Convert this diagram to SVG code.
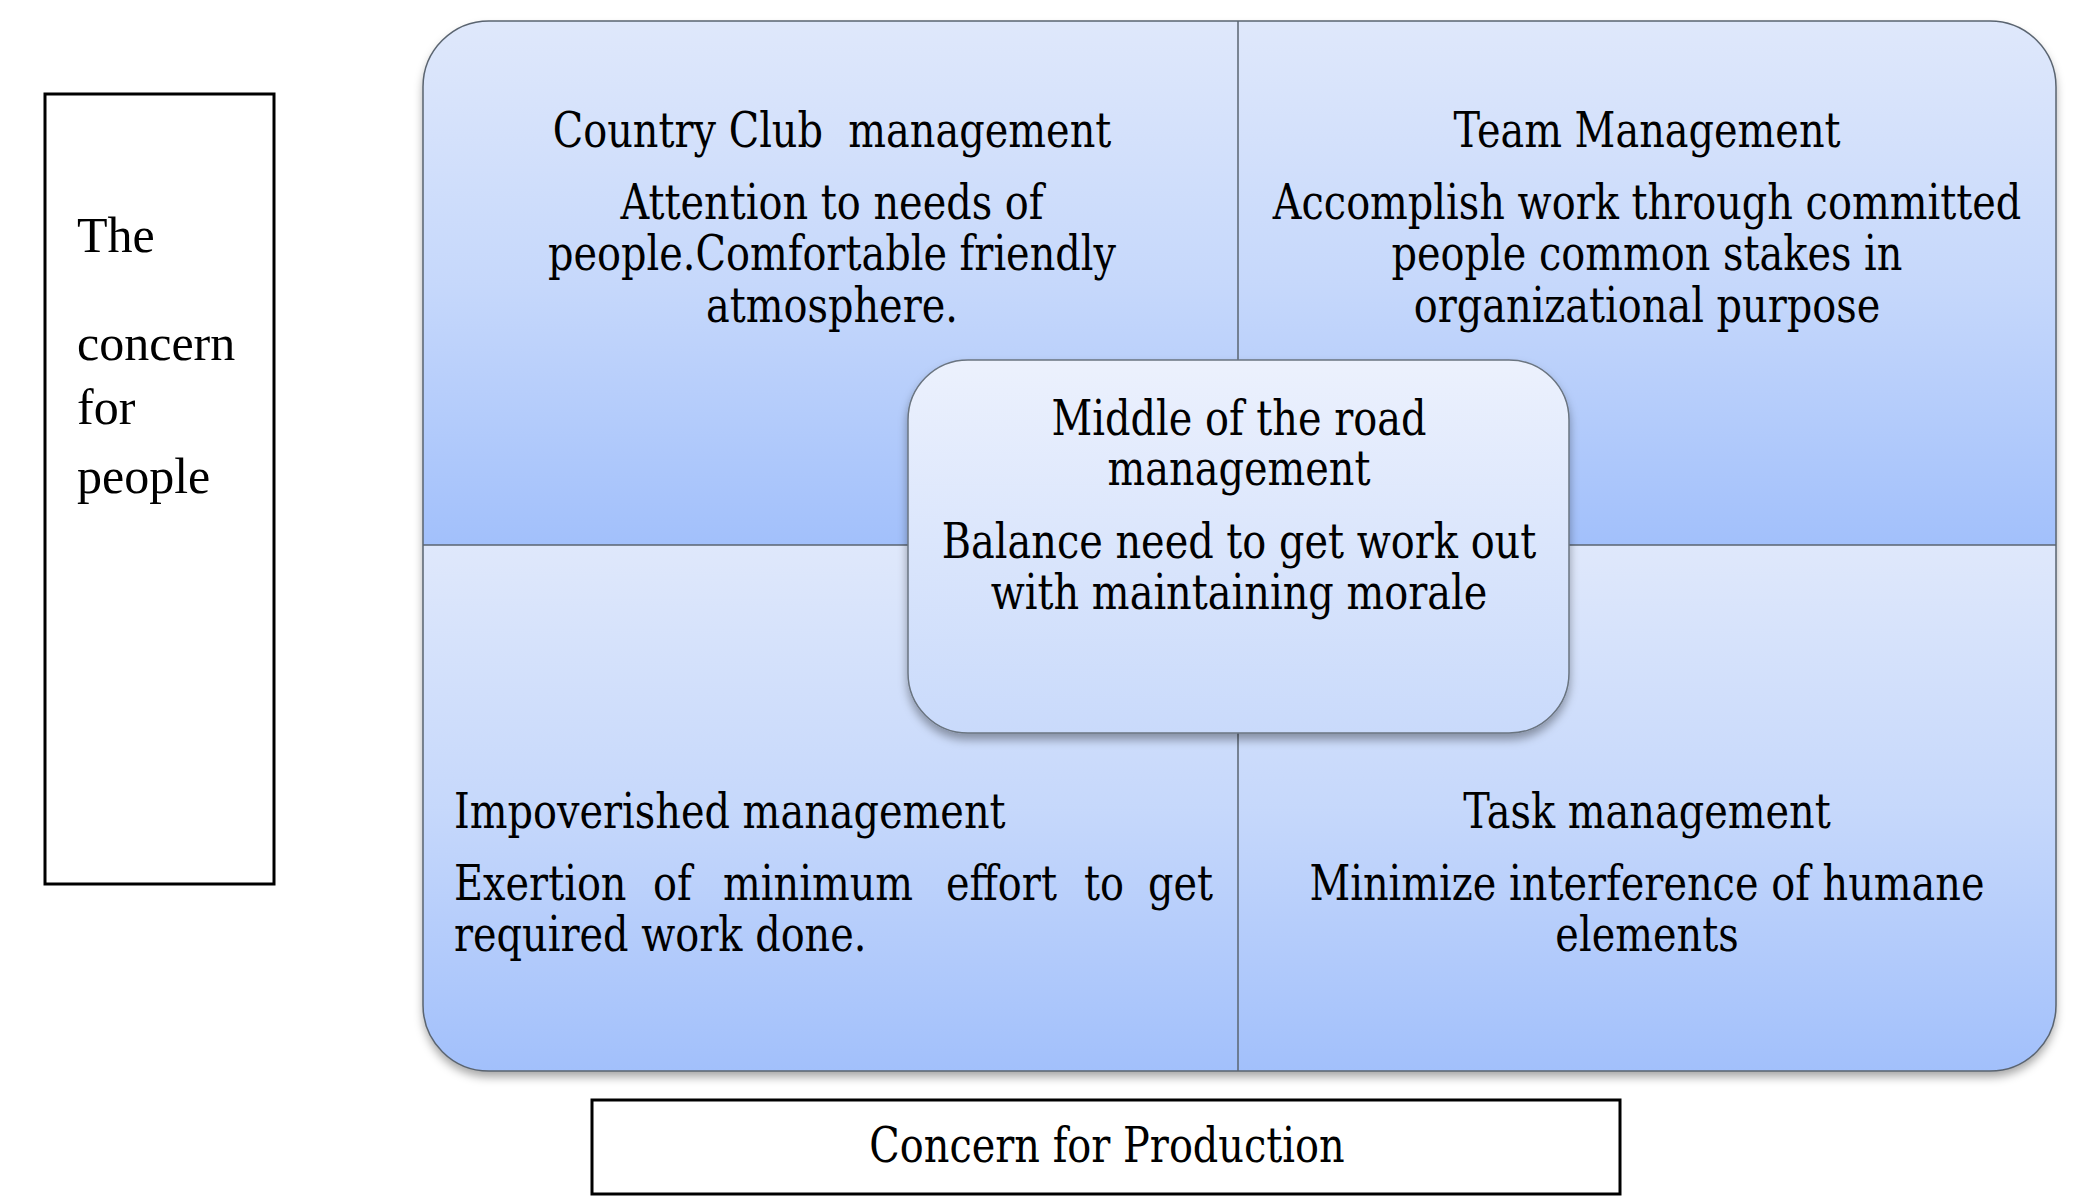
<svg xmlns="http://www.w3.org/2000/svg" width="2078" height="1198" viewBox="0 0 2078 1198">
<defs>
<linearGradient id="gq" x1="0" y1="0" x2="0" y2="1">
<stop offset="0" stop-color="#dfe8fb"/>
<stop offset="0.5" stop-color="#c6d8fb"/>
<stop offset="1" stop-color="#a2c0fb"/>
</linearGradient>
<linearGradient id="gc" x1="0" y1="0" x2="0" y2="1">
<stop offset="0" stop-color="#ecf1fd"/>
<stop offset="1" stop-color="#c9dafb"/>
</linearGradient>
<filter id="sh" x="-10%" y="-10%" width="120%" height="125%">
<feDropShadow dx="0" dy="6" stdDeviation="5" flood-color="#000" flood-opacity="0.35"/>
</filter>
<clipPath id="outer"><rect x="423" y="21" width="1633" height="1050" rx="66" ry="66"/></clipPath>
</defs>
<style>
.t{font-family:'DejaVu Serif',serif;font-size:48px;fill:#000}
.c{text-anchor:middle}
.e{text-anchor:end}
.side{font-family:'Liberation Serif','Times New Roman',serif;font-size:50px;fill:#000}
.q{stroke:#5a6470;stroke-width:1.5}
.lbl{fill:#fff;stroke:#000;stroke-width:3}
</style>
<g id="people-axis">
<rect class="lbl" x="45" y="94" width="229" height="790"/>
<text class="side" x="77" y="252">The</text>
<text class="side" x="77" y="360">concern</text>
<text class="side" x="77" y="424">for</text>
<text class="side" x="77" y="493">people</text>
</g>
<g id="grid" filter="url(#sh)">
<g clip-path="url(#outer)">
<rect x="423" y="21" width="815" height="524" fill="url(#gq)"/>
<rect x="1238" y="21" width="818" height="524" fill="url(#gq)"/>
<rect x="423" y="545" width="815" height="526" fill="url(#gq)"/>
<rect x="1238" y="545" width="818" height="526" fill="url(#gq)"/>
</g>
</g>
<g id="connectors">
<line class="q" x1="1238" y1="21" x2="1238" y2="1071"/>
<line class="q" x1="423" y1="545" x2="2056" y2="545"/>
</g>
<rect x="423" y="21" width="1633" height="1050" rx="66" ry="66" fill="none" class="q"/>
<g id="country-club">
<text class="t c" transform="translate(832 147) scale(0.83 1)" xml:space="preserve">Country Club  management</text>
<text class="t c" transform="translate(832 219) scale(0.83 1)">Attention to needs of</text>
<text class="t c" transform="translate(832 270) scale(0.83 1)">people.Comfortable friendly</text>
<text class="t c" transform="translate(832 322) scale(0.83 1)">atmosphere.</text>
</g>
<g id="team">
<text class="t c" transform="translate(1647 147) scale(0.83 1)">Team Management</text>
<text class="t c" transform="translate(1647 219) scale(0.83 1)">Accomplish work through committed</text>
<text class="t c" transform="translate(1647 270) scale(0.83 1)">people common stakes in</text>
<text class="t c" transform="translate(1647 322) scale(0.83 1)">organizational purpose</text>
</g>
<g id="impoverished">
<text class="t" transform="translate(454 828) scale(0.83 1)">Impoverished management</text>
<text class="t" transform="translate(454 900) scale(0.83 1)">Exertion</text>
<text class="t" transform="translate(653 900) scale(0.83 1)">of</text>
<text class="t" transform="translate(723 900) scale(0.83 1)">minimum</text>
<text class="t" transform="translate(946 900) scale(0.83 1)">effort</text>
<text class="t" transform="translate(1084 900) scale(0.83 1)">to</text>
<text class="t e" transform="translate(1213 900) scale(0.83 1)">get</text>
<text class="t" transform="translate(454 951) scale(0.83 1)">required work done.</text>
</g>
<g id="task">
<text class="t c" transform="translate(1647 828) scale(0.83 1)">Task management</text>
<text class="t c" transform="translate(1647 900) scale(0.83 1)">Minimize interference of humane</text>
<text class="t c" transform="translate(1647 951) scale(0.83 1)">elements</text>
</g>
<g id="middle">
<rect x="908" y="360" width="661" height="373" rx="60" ry="60" fill="url(#gc)" stroke="#6a7480" stroke-width="1.5" filter="url(#sh)"/>
<text class="t c" transform="translate(1239 435) scale(0.83 1)">Middle of the road</text>
<text class="t c" transform="translate(1239 485) scale(0.83 1)">management</text>
<text class="t c" transform="translate(1239 558) scale(0.83 1)">Balance need to get work out</text>
<text class="t c" transform="translate(1239 609) scale(0.83 1)">with maintaining morale</text>
</g>
<g id="production-axis">
<rect class="lbl" x="592" y="1100" width="1028" height="94"/>
<text class="t c" transform="translate(1107 1162) scale(0.83 1)">Concern for Production</text>
</g>
</svg>
